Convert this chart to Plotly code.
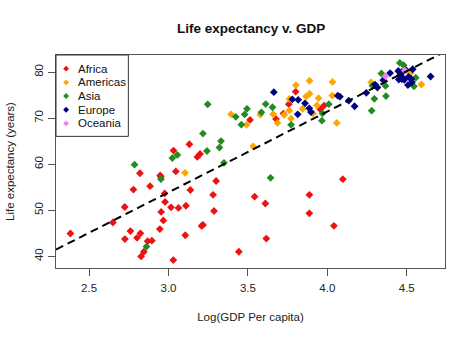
import numpy as np
import plotly.graph_objects as go

# Gapminder 2002: life expectancy (years) and GDP per capita by continent
africa_life = [70.994, 41.003, 54.406, 46.634, 50.65, 47.36, 49.856, 43.308, 50.525, 62.974,
               44.966, 52.97, 46.832, 53.373, 69.806, 49.348, 55.24, 50.725, 56.761, 58.041,
               58.453, 53.676, 45.504, 50.992, 44.593, 43.753, 72.737, 57.286, 45.009, 51.818,
               62.247, 71.954, 69.615, 44.026, 51.479, 54.496, 46.608, 75.744, 43.413, 64.337,
               61.6, 41.012, 45.936, 53.365, 56.369, 43.869, 49.651, 57.561, 73.042, 47.813,
               39.193, 39.989]
africa_gdp = [5288.04, 2773.29, 1372.88, 11003.61, 1037.65, 446.40, 1934.01, 738.69, 1156.18, 1075.81,
              241.17, 3484.06, 1648.80, 1908.26, 4754.60, 7703.50, 765.35, 530.05, 12521.71, 660.59,
              1111.98, 945.58, 575.70, 1287.51, 1275.18, 531.48, 9534.68, 894.64, 665.42, 951.41,
              1579.02, 9021.82, 3258.50, 633.62, 4072.32, 601.07, 1615.29, 6316.17, 785.65, 1353.09,
              1519.64, 699.49, 882.08, 7710.95, 1993.40, 4128.12, 899.07, 886.22, 5722.90, 927.72,
              1071.61, 672.04]

americas_life = [74.34, 63.883, 71.006, 79.77, 77.86, 71.682, 78.123, 77.158, 70.847, 74.173,
                 70.734, 68.978, 58.137, 68.565, 72.047, 74.902, 70.836, 74.712, 70.755, 69.906,
                 77.778, 68.976, 77.31, 75.307, 72.766]
americas_gdp = [8797.64, 3413.26, 8131.21, 33328.97, 10778.78, 5755.26, 7723.45, 6340.65, 4563.81, 5773.04,
                5351.57, 4858.35, 1270.36, 3099.73, 6994.77, 10742.44, 2474.55, 7356.03, 3783.67, 5909.02,
                18855.61, 11460.60, 39097.10, 7727.00, 8605.05]

asia_life = [42.129, 74.795, 62.013, 56.752, 72.028, 81.495, 62.879, 68.588, 69.451, 57.046,
             79.696, 82.0, 71.263, 66.662, 77.045, 76.904, 71.028, 73.044, 65.033, 59.908,
             61.34, 74.193, 63.61, 70.303, 71.626, 78.77, 70.815, 73.053, 76.99, 68.564,
             73.017, 72.37, 60.308]
asia_gdp = [726.73, 23403.56, 1136.39, 896.23, 3119.28, 30209.02, 1746.77, 2873.91, 9240.76, 4390.72,
            21905.60, 28604.59, 3844.92, 1646.76, 19233.99, 35110.11, 9313.94, 10206.98, 2140.74, 611.0,
            1057.21, 19774.84, 2092.71, 2650.92, 19014.54, 36023.11, 3015.38, 4090.93, 23235.42, 5913.19,
            1764.46, 4515.49, 2234.82]

europe_life = [75.651, 78.98, 78.32, 74.09, 72.14, 74.876, 75.51, 77.18, 78.37, 79.59,
               78.67, 78.256, 72.59, 80.5, 77.783, 80.24, 73.981, 78.53, 79.05, 74.67,
               77.29, 71.322, 73.213, 73.8, 76.66, 79.78, 80.04, 80.62, 70.845, 78.471]
europe_gdp = [4604.21, 32417.61, 30485.88, 6018.98, 7696.78, 11628.39, 17596.21, 32166.50, 28204.59, 28926.03,
              30035.80, 22514.25, 14843.94, 31163.20, 34077.05, 27968.10, 6557.19, 33724.76, 44683.98, 12002.24,
              19970.91, 7885.36, 7236.08, 13638.78, 20660.02, 24835.47, 29341.63, 34480.96, 6508.09, 29478.00]

oceania_life = [80.37, 79.11]
oceania_gdp = [30687.75, 23189.80]

continents = ["Africa", "Americas", "Asia", "Europe", "Oceania"]
colors = ["#ee1111", "#ffa500", "#228b22", "#00007f", "#ee82ee"]
lifes = [africa_life, americas_life, asia_life, europe_life, oceania_life]
gdps = [africa_gdp, americas_gdp, asia_gdp, europe_gdp, oceania_gdp]

FONT = "Liberation Sans, Arial, sans-serif"

fig = go.Figure()
for name, col, life, gdp in zip(continents, colors, lifes, gdps):
    fig.add_trace(go.Scatter(
        x=np.log10(gdp), y=life, mode="markers", name=name, showlegend=False,
        marker=dict(symbol="diamond", size=6, color=col, line=dict(width=0)),
    ))

all_x = np.log10(np.concatenate([np.array(g, float) for g in gdps]))
all_y = np.concatenate([np.array(l, float) for l in lifes])
slope, intercept = np.polyfit(all_x, all_y, 1)

def padded(v):
    lo, hi = v.min(), v.max()
    d = (hi - lo) * 0.04
    return [lo - d, hi + d]

xr = padded(all_x)
yr = padded(all_y)
line_x = np.array(xr)
fig.add_trace(go.Scatter(
    x=line_x, y=intercept + slope * line_x, mode="lines", showlegend=False,
    line=dict(color="black", width=2, dash="8px,5px"), hoverinfo="skip",
))

# R-style legend box in the top-left corner (drawn on an overlay unit axis)
leg_top, leg_step = 0.936, 0.0643
leg_y = [leg_top - i * leg_step for i in range(len(continents))]
fig.add_trace(go.Scatter(
    x=[0.026] * len(continents), y=leg_y, xaxis="x2", yaxis="y2",
    mode="markers", showlegend=False, hoverinfo="skip",
    marker=dict(symbol="diamond", size=4.5, color=colors, line=dict(width=0)),
))
for name, yy in zip(continents, leg_y):
    fig.add_annotation(x=0.051, y=yy, xref="paper", yref="paper", text=name,
                       showarrow=False, xanchor="left", yanchor="middle",
                       font=dict(family=FONT, size=11.5, color="#111111"))
fig.add_shape(type="rect", xref="paper", yref="paper", x0=0, x1=0.186, y0=0.618, y1=1,
              line=dict(color="#333333", width=1), fillcolor="rgba(0,0,0,0)", layer="above")

axis_common = dict(
    showgrid=False, zeroline=False, showline=True, mirror=True,
    linecolor="#555555", linewidth=1, ticks="outside", ticklen=7,
    tickcolor="#555555", tickwidth=1, automargin=False,
    tickfont=dict(family=FONT, size=11.5, color="#222222"),
)

fig.update_layout(
    width=474, height=338,
    margin=dict(l=56, r=29, t=55, b=70),
    paper_bgcolor="white", plot_bgcolor="white",
    font=dict(family=FONT, color="#222222"),
    title=dict(text="<b>Life expectancy v. GDP</b>", x=0.53, xanchor="center",
               y=1 - 28 / 338, yanchor="middle",
               font=dict(family=FONT, size=13.5, color="#111111")),
    xaxis=dict(range=xr, tickvals=[2.5, 3.0, 3.5, 4.0, 4.5],
               ticktext=["2.5", "3.0", "3.5", "4.0", "4.5"], ticklabelstandoff=2,
               title=dict(text="Log(GDP Per capita)", standoff=20,
                          font=dict(family=FONT, size=11.5, color="#222222")),
               **axis_common),
    yaxis=dict(range=yr, tickvals=[40, 50, 60, 70, 80], tickangle=-90,
               title=dict(text="Life expectancy (years)", standoff=16,
                          font=dict(family=FONT, size=11.5, color="#222222")),
               **axis_common),
    xaxis2=dict(overlaying="x", range=[0, 1], visible=False, fixedrange=True),
    yaxis2=dict(overlaying="y", range=[0, 1], visible=False, fixedrange=True),
    showlegend=False,
)

fig.write_html("out.html")
